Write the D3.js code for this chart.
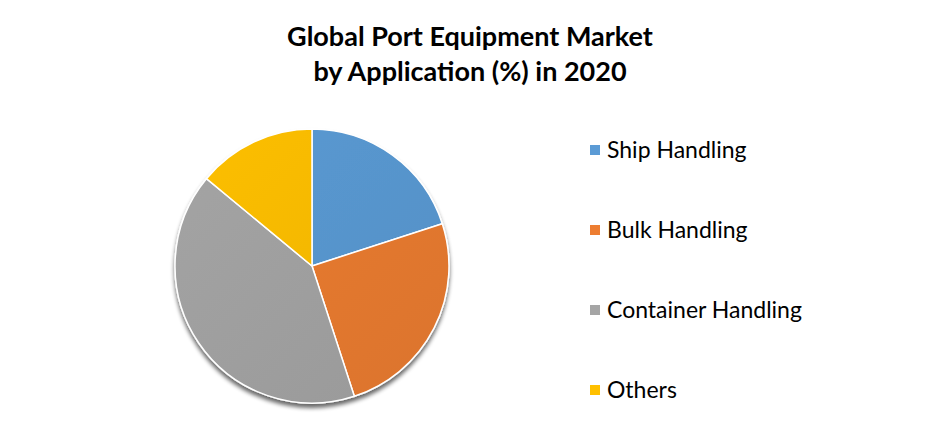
<!DOCTYPE html>
<html>
<head>
<meta charset="utf-8">
<script src="https://cdn.jsdelivr.net/npm/d3@7"></script>
<style>
  body { margin: 0; background: #fff; }
  text { font-family: Lato, "Open Sans", sans-serif; }
</style>
</head>
<body>
<div id="chart"></div>
<script>
var categories = ["Ship Handling", "Bulk Handling", "Container Handling", "Others"];
var shares = [20, 25, 41, 14];
var colors = ["#5b9bd5", "#ed7d31", "#a5a5a5", "#ffc000"];
var titleLines = ["Global Port Equipment Market", "by Application (%) in 2020"];

var width = 940, height = 448;
var pieSpecs = {cx: 312, cy: 266, r: 137};
var legendSpecs = {x: 590, y0: 150, step: 80, box: 10};

var svg = d3.select("#chart").append("svg").attr("width", width).attr("height", height);
var defs = svg.append("defs");

var shadow = defs.append("filter").attr("id", "shadow").attr("x", "-20%").attr("y", "-20%")
    .attr("width", "140%").attr("height", "140%");
shadow.append("feGaussianBlur").attr("in", "SourceAlpha").attr("stdDeviation", 2);
shadow.append("feOffset").attr("dx", 0).attr("dy", 4).attr("result", "blur");
shadow.append("feComponentTransfer").append("feFuncA").attr("type", "linear").attr("slope", 0.6);
var merge = shadow.append("feMerge");
merge.append("feMergeNode");
merge.append("feMergeNode").attr("in", "SourceGraphic");

colors.forEach(function(c, i) {
    var g = defs.append("linearGradient").attr("id", "grad" + i)
        .attr("gradientUnits", "userSpaceOnUse")
        .attr("x1", -pieSpecs.r).attr("y1", -pieSpecs.r)
        .attr("x2", pieSpecs.r).attr("y2", pieSpecs.r);
    g.append("stop").attr("offset", "0%").attr("stop-color", d3.color(c).darker(0.02));
    g.append("stop").attr("offset", "100%").attr("stop-color", d3.color(c).darker(0.22));
});

// title
svg.append("g").selectAll("text").data(titleLines).enter().append("text")
    .attr("x", 470).attr("y", function(d, i) { return 46 + i * 35; })
    .attr("text-anchor", "middle").attr("font-size", 27).attr("font-weight", "bold")
    .attr("fill", "#000").text(function(d) { return d; });

// pie
var pie = d3.pie().sort(null).value(function(d) { return d; });
var arc = d3.arc().innerRadius(0).outerRadius(pieSpecs.r);

var pieG = svg.append("g").attr("transform", "translate(" + pieSpecs.cx + "," + pieSpecs.cy + ")")
    .attr("filter", "url(#shadow)");
pieG.selectAll("path").data(pie(shares)).enter().append("path")
    .attr("d", arc)
    .attr("fill", function(d, i) { return "url(#grad" + i + ")"; })
    .attr("stroke", "#fff").attr("stroke-width", 1.5);

// legend
var leg = svg.append("g").selectAll("g").data(categories).enter().append("g")
    .attr("transform", function(d, i) { return "translate(" + legendSpecs.x + "," + (legendSpecs.y0 + i * legendSpecs.step) + ")"; });
leg.append("rect").attr("x", 0).attr("y", -legendSpecs.box / 2).attr("width", legendSpecs.box).attr("height", legendSpecs.box)
    .attr("fill", function(d, i) { return colors[i]; });
leg.append("text").attr("x", 17).attr("y", 0).attr("dy", "0.35em")
    .attr("font-size", 23).attr("fill", "#000").text(function(d) { return d; });
</script>
</body>
</html>
